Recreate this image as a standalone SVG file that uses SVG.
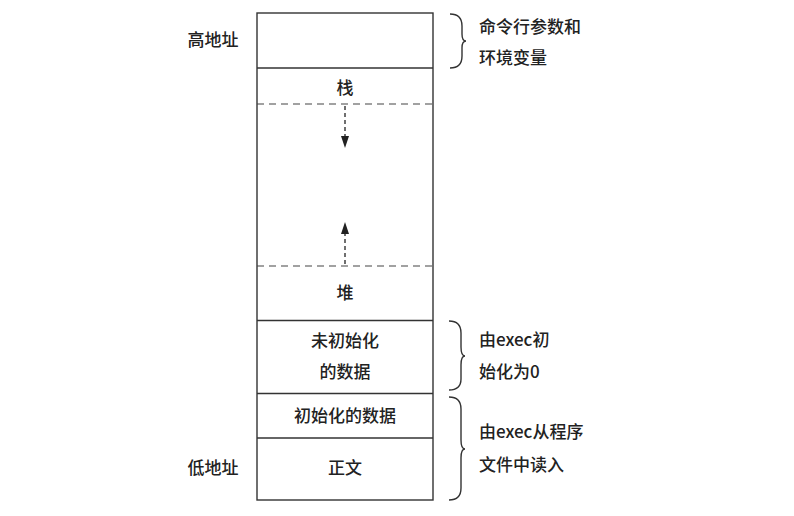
<svg xmlns="http://www.w3.org/2000/svg" width="794" height="516" viewBox="0 0 794 516">
<style>
text{font-family:"Noto Sans CJK SC","Liberation Sans",sans-serif;font-size:17px;fill:#222;font-weight:500}
.c{text-anchor:middle}
.ln{stroke:#333;stroke-width:1.4;fill:none}
.d{stroke:#444;stroke-width:1.2;stroke-dasharray:7,5}
</style>
<defs><marker id="a" markerWidth="12" markerHeight="8" refX="12" refY="4" orient="auto" markerUnits="userSpaceOnUse" viewBox="0 0 12 8"><path d="M0,0L12,4L0,8z" fill="#222"/></marker></defs>
<rect width="794" height="516" fill="#fff"/>
<g id="memory">
<rect class="ln" x="257" y="13" width="176" height="487"/>
<line class="ln" x1="257" y1="68" x2="433" y2="68"/>
<line class="ln" x1="257" y1="320.5" x2="433" y2="320.5"/>
<line class="ln" x1="257" y1="393.5" x2="433" y2="393.5"/>
<line class="ln" x1="257" y1="438" x2="433" y2="438"/>
<line class="d" x1="257" y1="104" x2="433" y2="104"/>
<line class="d" x1="257" y1="266" x2="433" y2="266"/>
</g>
<g id="labels">
<text class="c" x="345" y="94">栈</text>
<text class="c" x="345" y="299">堆</text>
<text class="c" x="345" y="347">未初始化</text>
<text class="c" x="345" y="378">的数据</text>
<text class="c" x="345" y="422">初始化的数据</text>
<text class="c" x="345" y="474">正文</text>
<text class="c" x="213" y="46">高地址</text>
<text class="c" x="213" y="474">低地址</text>
<text x="479" y="33">命令行参数和</text>
<text x="479" y="64">环境变量</text>
<text x="479" y="346">由exec初</text>
<text x="479" y="378">始化为0</text>
<text x="479" y="438">由exec从程序</text>
<text x="479" y="471">文件中读入</text>
</g>
<g id="connectors">
<path class="ln" d="M345,106V148" stroke-dasharray="4,3" marker-end="url(#a)"/>
<path class="ln" d="M345,264V222" stroke-dasharray="4,3" marker-end="url(#a)"/>
<path class="ln" d="M450,14Q462,14 462,26V34Q462,41 466,41Q462,41 462,48V56Q462,68 450,68"/>
<path class="ln" d="M449,321Q461,321 461,333V347Q461,356 465,356Q461,356 461,365V379Q461,390 449,390"/>
<path class="ln" d="M449,397Q461,397 461,409V440Q461,449 465,449Q461,449 461,458V488Q461,500 449,500"/>
</g>
</svg>
